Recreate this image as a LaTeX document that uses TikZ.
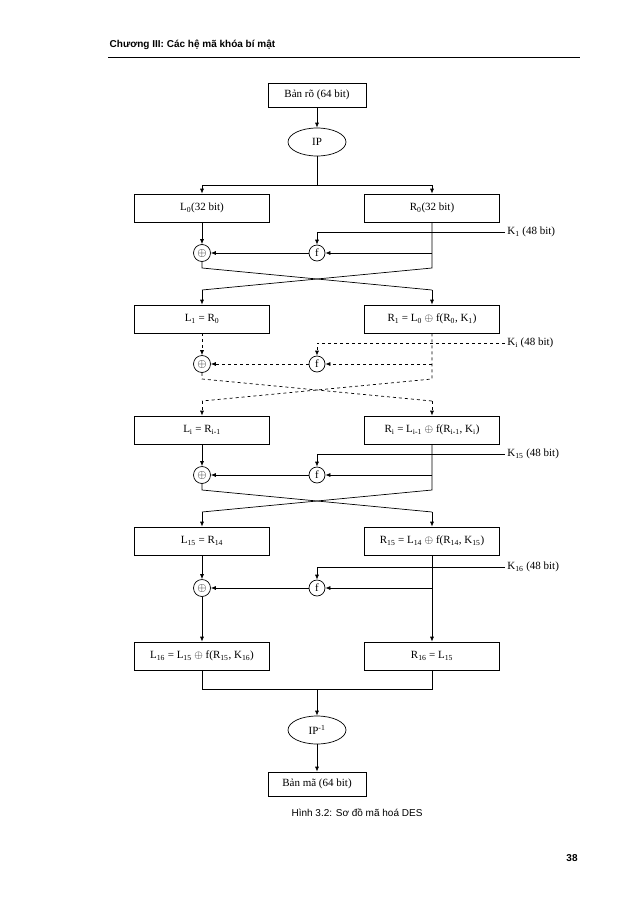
\documentclass[tikz,border=0pt]{standalone}
\usepackage{fontspec}
\setmainfont{Liberation Serif}
\newfontfamily\sansf{Liberation Sans}
\usetikzlibrary{arrows.meta,shapes.geometric}
\begin{document}
\begin{tikzpicture}[x=1pt,y=-1pt,font=\fontsize{11}{13}\selectfont,
  box/.style={draw,minimum height=28pt,inner sep=2pt},
  lr/.style={box,minimum width=135pt},
  fn/.style={draw,circle,inner sep=0pt,minimum size=16pt},
  xo/.style={draw,circle,inner sep=0pt,minimum size=17pt,font=\fontsize{13}{13}\selectfont},
  ov/.style={draw,ellipse,minimum width=58pt,minimum height=28pt,inner sep=0pt},
  ar/.style={-{Latex[length=5pt,width=4pt]}},
  line width=0.7pt]
\useasboundingbox (0,0) rectangle (638,902);
\node[anchor=west,font=\sansf\bfseries\fontsize{10}{12}\selectfont] (hd) at (106,45) {Chương III: Các hệ mã khóa bí mật};
\draw[line width=1pt] (108,57) -- (580,57);
\node[box,minimum width=98pt,minimum height=24pt] (pt) at (317,95) {Bản rõ (64 bit)};
\node[ov] (ip) at (317,142) {IP};
\node[lr] (L0) at (202,208) {L\textsubscript{0}(32 bit)};
\node[lr] (R0) at (432,208) {R\textsubscript{0}(32 bit)};
\node[lr] (L1) at (202,319) {L\textsubscript{1} = R\textsubscript{0}};
\node[lr] (R1) at (432,319) {R\textsubscript{1} = L\textsubscript{0} $\oplus$ f(R\textsubscript{0}, K\textsubscript{1})};
\node[lr] (L2) at (202,430) {L\textsubscript{i} = R\textsubscript{i-1}};
\node[lr] (R2) at (432,430) {R\textsubscript{i} = L\textsubscript{i-1} $\oplus$ f(R\textsubscript{i-1}, K\textsubscript{i})};
\node[lr] (L3) at (202,541) {L\textsubscript{15} = R\textsubscript{14}};
\node[lr] (R3) at (432,541) {R\textsubscript{15} = L\textsubscript{14} $\oplus$ f(R\textsubscript{14}, K\textsubscript{15})};
\node[lr] (L4) at (202,656) {L\textsubscript{16} = L\textsubscript{15} $\oplus$ f(R\textsubscript{15}, K\textsubscript{16})};
\node[lr] (R4) at (432,656) {R\textsubscript{16} = L\textsubscript{15}};
\node[ov] (ipi) at (317,730) {IP\textsuperscript{-1}};
\node[box,minimum width=98pt,minimum height=24pt] (ct) at (317,784) {Bản mã (64 bit)};
\node[font=\sansf\fontsize{10}{12}\selectfont] (cap) at (357,813) {Hình 3.2: Sơ đồ mã hoá DES};
\node[font=\sansf\bfseries\fontsize{10}{12}\selectfont] (pg) at (572,858) {38};
% top
\draw[ar] (pt) -- (ip);
\draw (ip) -- (317,185) coordinate (j0);
\draw[ar] (j0) -| (L0.north);
\draw[ar] (j0) -| (R0.north);
% rounds
\foreach \i/\n/\t/\k/\s in {0/1/194/K\textsubscript{1}/solid,1/2/305/K\textsubscript{i}/dashed,2/3/416/K\textsubscript{15}/solid}{
  \node[fn] (f\i) at (317,\t+59) {f};
  \node[xo] (x\i) at (202,\t+59) {$\oplus$};
  \node[anchor=west,inner sep=2pt] (k\i) at (505,\t+38) {\k\ (48 bit)};
  \draw[ar,\s] (k\i.west) -| (f\i.north);
  \draw[ar,\s] (L\i) -- (x\i);
  \draw[\s] (R\i.south) -- (432,\t+74) coordinate (rb\i) -- (202,\t+96) coordinate (le\i);
  \draw[ar,\s] (432,\t+59) -- (f\i);
  \draw[ar,\s] (f\i) -- (x\i);
  \draw[\s] (x\i) -- (202,\t+74) -- (432,\t+96) coordinate (re\i);
  \draw[ar,\s] (le\i) -- (L\n.north);
  \draw[ar,\s] (re\i) -- (R\n.north);
}
% last round
\node[fn] (f3) at (317,588) {f};
\node[xo] (x3) at (202,588) {$\oplus$};
\node[anchor=west,inner sep=2pt] (k3) at (505,567) {K\textsubscript{16} (48 bit)};
\draw[ar] (k3.west) -| (f3.north);
\draw[ar] (L3) -- (x3);
\draw[ar] (x3) -- (L4);
\draw[ar] (R3) -- (R4);
\draw[ar] (432,588) -- (f3);
\draw[ar] (f3) -- (x3);
% output
\draw (L4.south) -- (202,689) -- (432,689) -- (R4.south);
\draw[ar] (317,689) -- (ipi);
\draw[ar] (ipi) -- (ct);
\end{tikzpicture}
\end{document}
